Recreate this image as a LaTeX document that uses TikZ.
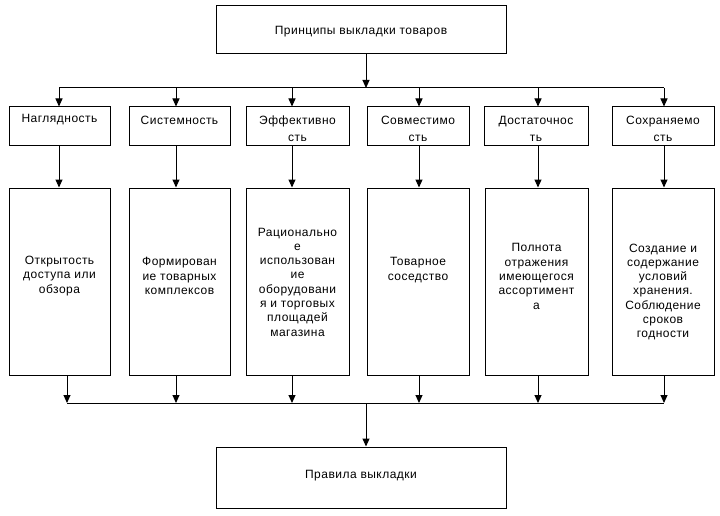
\documentclass[tikz,border=0pt]{standalone}
\usepackage{fontspec}
\setmainfont{Liberation Sans}[LetterSpace=4]
\usetikzlibrary{arrows.meta}
\begin{document}
\begin{tikzpicture}[x=1pt,y=-1pt,
  every node/.style={font=\fontsize{12}{14.3}\selectfont},
  box/.style={draw, line width=1pt, inner sep=0pt},
  txt/.style={align=center, inner sep=0pt},
  twoline/.style={align=center, inner sep=0pt, font=\fontsize{12}{17}\selectfont},
  arr/.style={line width=1pt, -{Triangle[width=7pt,length=8pt]}},
  ln/.style={line width=1pt}]
\useasboundingbox[fill=white] (0,0) rectangle (720,516);

% top and bottom boxes
\node[box, minimum width=290pt, minimum height=48pt] (top) at (361,30) {};
\node[txt] (toptxt) at (361,32) {Принципы выкладки товаров};
\node[box, minimum width=290pt, minimum height=61pt] (bot) at (361,477.5) {};
\node[txt] (bottxt) at (361,476) {Правила выкладки};

% principle boxes
\node[box, minimum width=101pt, minimum height=39pt] (p1) at (59.5,126.5) {};
\node[box, minimum width=101pt, minimum height=39pt] (p2) at (179.5,126.5) {};
\node[box, minimum width=103pt, minimum height=39pt] (p3) at (297.5,126.5) {};
\node[box, minimum width=102pt, minimum height=39pt] (p4) at (418,126.5) {};
\node[box, minimum width=104pt, minimum height=39pt] (p5) at (536,126.5) {};
\node[box, minimum width=102pt, minimum height=39pt] (p6) at (663,126.5) {};

\node[txt] (pt1) at (59.5,120) {Наглядность};
\node[txt] (pt2) at (179.5,120) {Системность};
\node[twoline] (pt3) at (297.5,128.5) {Эффективно\\сть};
\node[twoline] (pt4) at (418,128.5) {Совместимо\\сть};
\node[twoline] (pt5) at (536,128.5) {Достаточнос\\ть};
\node[twoline] (pt6) at (663,128.5) {Сохраняемо\\сть};

% detail boxes
\node[box, minimum width=101pt, minimum height=187pt] (q1) at (59.5,281.5) {};
\node[box, minimum width=101pt, minimum height=187pt] (q2) at (179.5,281.5) {};
\node[box, minimum width=103pt, minimum height=187pt] (q3) at (297.5,281.5) {};
\node[box, minimum width=102pt, minimum height=187pt] (q4) at (418,281.5) {};
\node[box, minimum width=103pt, minimum height=187pt] (q5) at (536.5,281.5) {};
\node[box, minimum width=102pt, minimum height=187pt] (q6) at (663,281.5) {};

\node[txt] (qt1) at (59.5,276) {Открытость\\доступа или\\обзора};
\node[txt] (qt2) at (179.5,276) {Формирован\\ие товарных\\комплексов};
\node[txt] (qt3) at (297.5,282) {Рационально\\е\\использован\\ие\\оборудовани\\я и торговых\\площадей\\магазина};
\node[txt] (qt4) at (418,270) {Товарное\\соседство};
\node[txt] (qt5) at (536.5,276.5) {Полнота\\отражения\\имеющегося\\ассортимент\\а};
\node[txt] (qt6) at (663,292) {Создание и\\содержание\\условий\\хранения.\\Соблюдение\\сроков\\годности};

% hubs
\coordinate (h0) at (366,88);
\coordinate (a1) at (59,88);
\coordinate (a2) at (176,88);
\coordinate (a3) at (292,88);
\coordinate (a4) at (419,88);
\coordinate (a5) at (538,88);
\coordinate (a6) at (664,88);
\coordinate (g0) at (366,403);
\coordinate (b1) at (67,403);
\coordinate (b2) at (176,403);
\coordinate (b3) at (292,403);
\coordinate (b4) at (419,403);
\coordinate (b5) at (538,403);
\coordinate (b6) at (664,403);

% connectors
\draw[arr] (top.south -| h0) -- (h0);
\draw[ln] (a1) -- (a6);
\foreach \i in {1,...,6}{
  \draw[arr] (a\i) -- (a\i |- p\i.north);
  \draw[arr] (a\i |- p\i.south) -- (a\i |- q\i.north);
}
\draw[arr] (b1 |- q1.south) -- (b1);
\foreach \i in {2,...,6}{
  \draw[arr] (a\i |- q\i.south) -- (b\i);
}
\draw[ln] (b1) -- (b6);
\draw[arr] (g0) -- (g0 |- bot.north);
\end{tikzpicture}
\end{document}
